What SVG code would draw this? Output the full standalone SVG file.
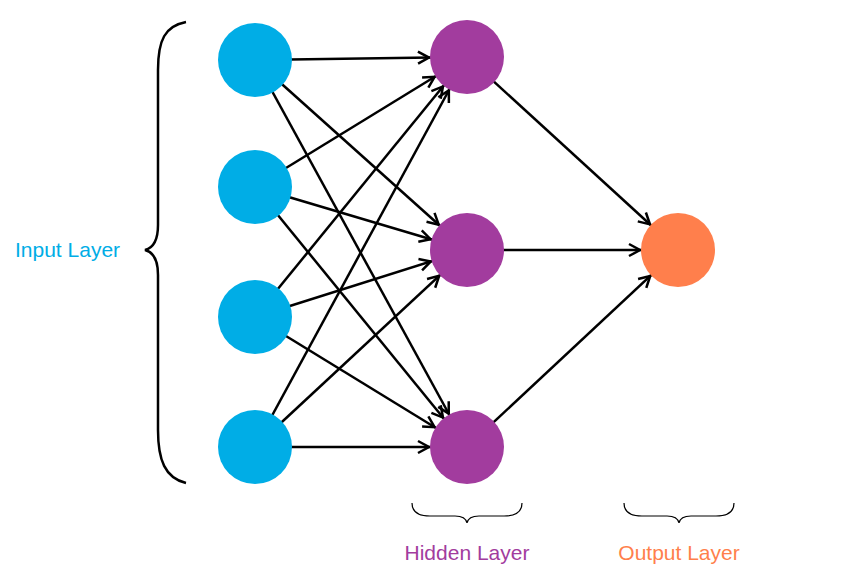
<svg xmlns="http://www.w3.org/2000/svg" width="842" height="580" viewBox="0 0 842 580">
<style>
.c{stroke:#000;stroke-width:2.5;fill:none}
.in{fill:#00ADE6}.hd{fill:#A23C9E}.out{fill:#FF7F4C}
.br{fill:none;stroke:#000}
text{font-family:"Helvetica","Liberation Sans",Arial,sans-serif;font-size:21px}
</style>
<defs>
<marker id="a" markerUnits="userSpaceOnUse" refX="38" refY="0" markerWidth="60" markerHeight="20" orient="auto" overflow="visible">
<path d="M-11,-6 L0,0 L-11,6" fill="none" stroke="#000" stroke-width="2.5"/>
</marker>
</defs>
<rect width="842" height="580" fill="#fff"/>
<g id="connectors" class="c" marker-end="url(#a)">
<line x1="255" y1="60" x2="467" y2="57"/><line x1="255" y1="60" x2="467" y2="250"/><line x1="255" y1="60" x2="467" y2="447"/>
<line x1="255" y1="187" x2="467" y2="57"/><line x1="255" y1="187" x2="467" y2="250"/><line x1="255" y1="187" x2="467" y2="447"/>
<line x1="255" y1="317" x2="467" y2="57"/><line x1="255" y1="317" x2="467" y2="250"/><line x1="255" y1="317" x2="467" y2="447"/>
<line x1="255" y1="447" x2="467" y2="57"/><line x1="255" y1="447" x2="467" y2="250"/><line x1="255" y1="447" x2="467" y2="447"/>
<line x1="467" y1="57" x2="678" y2="250"/><line x1="467" y1="250" x2="678" y2="250"/><line x1="467" y1="447" x2="678" y2="250"/>
</g>
<g id="i1"><circle class="in" cx="255" cy="60" r="37"/></g>
<g id="i2"><circle class="in" cx="255" cy="187" r="37"/></g>
<g id="i3"><circle class="in" cx="255" cy="317" r="37"/></g>
<g id="i4"><circle class="in" cx="255" cy="447" r="37"/></g>
<g id="h1"><circle class="hd" cx="467" cy="57" r="37"/></g>
<g id="h2"><circle class="hd" cx="467" cy="250" r="37"/></g>
<g id="h3"><circle class="hd" cx="467" cy="447" r="37"/></g>
<g id="o1"><circle class="out" cx="678" cy="250" r="37"/></g>
<g id="braces">
<path class="br" stroke-width="2.5" d="M186,22 C165,26 158,40 158,70 L158,225 C158,240 153,248 145,250 C153,252 158,260 158,275 L158,430 C158,460 165,478 186,483"/>
<path class="br" stroke-width="1.2" d="M412,503 C412,512 418,516 430,516 L455,516 C462,516 466,518 467,523 C468,518 472,516 479,516 L504,516 C516,516 522,512 522,503"/>
<path class="br" stroke-width="1.2" d="M624,503 C624,512 630,516 642,516 L667,516 C674,516 678,518 679,523 C680,518 684,516 691,516 L716,516 C728,516 734,512 734,503"/>
</g>
<g id="labels">
<text x="15" y="257" fill="#00ADE6">Input Layer</text>
<text x="467" y="560" fill="#A23C9E" text-anchor="middle">Hidden Layer</text>
<text x="679" y="560" fill="#FF7F4C" text-anchor="middle">Output Layer</text>
</g>
</svg>
